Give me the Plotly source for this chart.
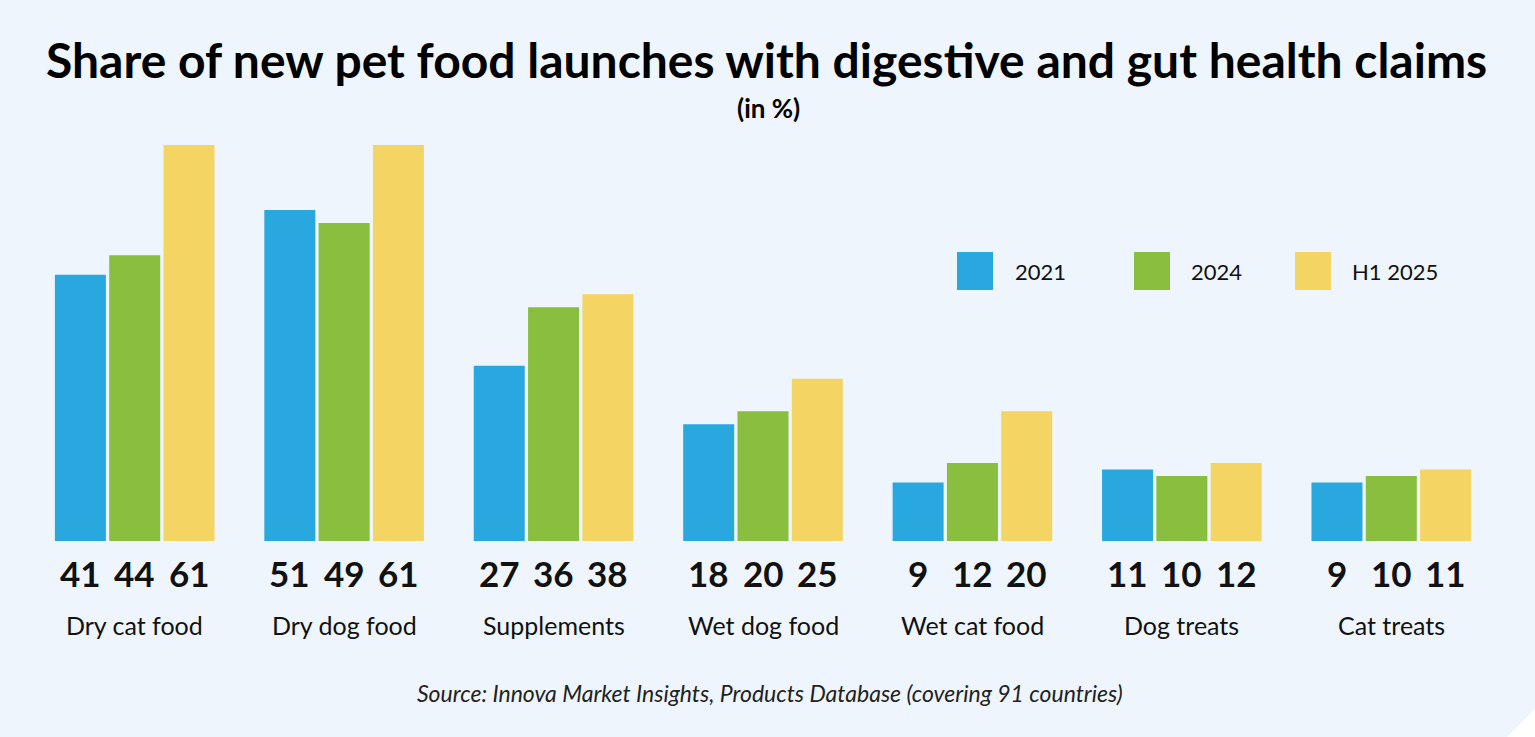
import plotly.graph_objects as go

categories = ["Dry cat food", "Dry dog food", "Supplements", "Wet dog food",
              "Wet cat food", "Dog treats", "Cat treats"]
series_names = ["2021", "2024", "H1 2025"]
values_2021 = [41, 51, 27, 18, 9, 11, 9]
values_2024 = [44, 49, 36, 20, 12, 10, 10]
values_h1_2025 = [61, 61, 38, 25, 20, 12, 11]

series_values = [values_2021, values_2024, values_h1_2025]
colors = ["#29A8DF", "#8ABE3E", "#F4D462"]
BG = "#EEF5FC"

W, H = 1535, 737
ML, MR, MT, MB = 30, 39, 145, 196
PW, PH = W - ML - MR, H - MT - MB

BARGAP = 0.222
GROUPGAP = 0.061
FONT = "Lato"

def px_x(px):
    return (px - ML) / PW

def px_y(py):
    return (H - MB - py) / PH

fig = go.Figure()
for name, vals, col in zip(series_names, series_values, colors):
    fig.add_trace(go.Bar(x=categories, y=vals, name=name, marker_color=col,
                         marker_line_width=0, showlegend=False,
                         hovertemplate="%{x}: %{y}%<extra>" + name + "</extra>"))

annotations = []
slot = (1 - BARGAP) / 3
for i, cat in enumerate(categories):
    for j, vals in enumerate(series_values):
        off = (j - 1) * slot
        annotations.append(dict(x=i + off, y=0, xref="x", yref="paper",
                                text=f"<b>{vals[i]}</b>", showarrow=False,
                                yanchor="middle", yshift=-32,
                                font=dict(size=35, color="#111111", family=FONT)))
    annotations.append(dict(x=i, y=0, xref="x", yref="paper", text=cat,
                            showarrow=False, yanchor="middle", yshift=-84,
                            font=dict(size=25, color="#111111", family=FONT)))

# Title, subtitle, source
annotations.append(dict(x=px_x(766), y=px_y(60), xref="paper", yref="paper",
                        text="<b>Share of new pet food launches with digestive and gut health claims</b>",
                        showarrow=False, xanchor="center", yanchor="middle",
                        font=dict(size=48, color="#000000", family=FONT)))
annotations.append(dict(x=px_x(768), y=px_y(108), xref="paper", yref="paper",
                        text="<b>(in %)</b>", showarrow=False,
                        xanchor="center", yanchor="middle",
                        font=dict(size=26, color="#000000", family=FONT)))
annotations.append(dict(x=px_x(770), y=px_y(693), xref="paper", yref="paper",
                        text="<i>Source: Innova Market Insights, Products Database (covering 91 countries)</i>",
                        showarrow=False, xanchor="center", yanchor="middle",
                        font=dict(size=23, color="#222222", family=FONT)))

# Manual legend
shapes = []
legend_sq_x = [957, 1134, 1295]
legend_tx_x = [1013, 1189, 1350]
for name, col, sx, tx in zip(series_names, colors, legend_sq_x, legend_tx_x):
    shapes.append(dict(type="rect", xref="paper", yref="paper",
                       x0=px_x(sx), x1=px_x(sx + 36), y0=px_y(252), y1=px_y(290),
                       fillcolor=col, line=dict(width=0)))
    annotations.append(dict(x=px_x(tx), y=px_y(271), xref="paper", yref="paper",
                            text=name, showarrow=False, xanchor="left",
                            yanchor="middle",
                            font=dict(size=22, color="#111111", family=FONT)))

# folded corner
shapes.append(dict(type="path", xref="paper", yref="paper",
                   path=f"M {px_x(1507)} {px_y(737)} L {px_x(1535)} {px_y(737)} L {px_x(1535)} {px_y(709)} Z",
                   fillcolor="#FFFFFF", line=dict(width=0), layer="above"))

fig.update_layout(
    width=W, height=H,
    margin=dict(l=ML, r=MR, t=MT, b=MB, pad=0),
    paper_bgcolor=BG, plot_bgcolor=BG,
    barmode="group", bargap=BARGAP, bargroupgap=GROUPGAP,
    xaxis=dict(showticklabels=False, showgrid=False, zeroline=False,
               showline=False, range=[-0.5, 6.5], fixedrange=True),
    yaxis=dict(showticklabels=False, showgrid=False, zeroline=False,
               showline=False, range=[0, 61], fixedrange=True),
    annotations=annotations, shapes=shapes,
    font=dict(family=FONT),
)

fig.write_html("out.html", config={"displayModeBar": False},
               post_script="document.body.style.margin='0';"
                           "document.body.style.overflow='hidden';"
                           f"document.body.style.background='{BG}';")
